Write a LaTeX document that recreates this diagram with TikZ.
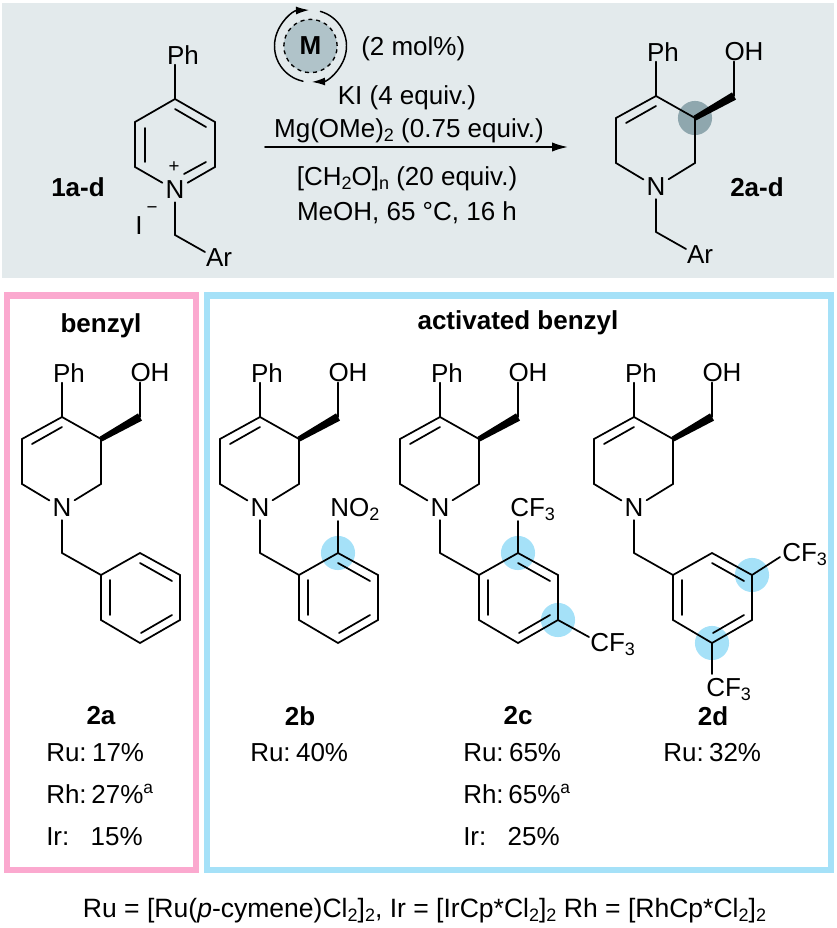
\documentclass[tikz,border=0pt]{standalone}
\usepackage{fontspec}
\usetikzlibrary{arrows.meta}
\setmainfont{Liberation Sans}
\definecolor{panel}{HTML}{E3EAEC}
\definecolor{pinkf}{HTML}{FBA9CF}
\definecolor{bluef}{HTML}{A5E1F8}
\definecolor{mgray}{HTML}{B0C3C9}
\definecolor{sgray}{HTML}{8FA7AE}
\newcommand{\sbs}[1]{\raisebox{-3.6pt}{\fontsize{13.5}{14}\selectfont #1}}
\newcommand{\sps}[1]{\raisebox{7pt}{\fontsize{13}{14}\selectfont #1}}
\tikzset{
  bond/.style={line width=1.3pt,line join=miter,line cap=round},
  lab/.style={font=\fontsize{19.5}{22}\selectfont,inner sep=0pt,text=black},
  atom/.style={lab,inner sep=2.2pt},
  bold/.style={lab,font=\fontsize{19.5}{22}\selectfont\bfseries},
  yieldt/.style={lab,anchor=base west},
  frame/.style={line width=4.6pt},
  spot/.style={fill=bluef,draw=none},
  wedge/.style={fill=black,draw=none}
}
% piperidine core: prefix #1
\newcommand{\core}[1]{%
  \node[lab]  (#1ph) at (69,373) {Ph};
  \node[lab]  (#1oh) at (150,373) {OH};
  \node[atom] (#1n)  at (62,508) {N};
  \coordinate (#1c4) at (62,417);
  \coordinate (#1c3) at (101,439);
  \coordinate (#1c2) at (101,484);
  \coordinate (#1c6) at (22,484);
  \coordinate (#1c5) at (22,439);
  \coordinate (#1d1) at (32,444);
  \coordinate (#1d2) at (62,427);
  \coordinate (#1me) at (140,417);
  \coordinate (#1bn) at (62,553);
  \draw[bond] (#1c4) -- (#1c4 |- #1ph.south);
  \draw[bond] (#1n) -- (#1c2) -- (#1c3) -- (#1c4) -- (#1c5) -- (#1c6) -- (#1n);
  \draw[bond] (#1d1) -- (#1d2);
  \fill[wedge] ([shift={(-1.3,-2.3)}]#1c3) -- ([shift={(-2,-3.6)}]#1me) -- ([shift={(2,3.6)}]#1me) -- ([shift={(1.3,2.3)}]#1c3) -- cycle;
  \draw[bond] (#1me) -- (#1me |- #1oh.south);
  \draw[bond] (#1n) -- (#1bn);
}
% benzene ring: prefix #1, shift handled by the enclosing scope
\newcommand{\benz}[1]{%
  \coordinate (#1r1) at (101,575);
  \coordinate (#1r2) at (140,553);
  \coordinate (#1r3) at (180,575);
  \coordinate (#1r4) at (180,620);
  \coordinate (#1r5) at (140,643);
  \coordinate (#1r6) at (101,620);
  \draw[bond] (#1bn) -- (#1r1) -- (#1r2) -- (#1r3) -- (#1r4) -- (#1r5) -- (#1r6) -- (#1r1);
  \coordinate (#1i1) at (140,563); \coordinate (#1i2) at (172,581);
  \coordinate (#1i3) at (110,580); \coordinate (#1i4) at (110,615);
  \coordinate (#1i5) at (172,615); \coordinate (#1i6) at (141,633);
  \draw[bond] (#1i1) -- (#1i2);
  \draw[bond] (#1i3) -- (#1i4);
  \draw[bond] (#1i5) -- (#1i6);
}
\begin{document}
\begin{tikzpicture}[x=0.75pt,y=-0.75pt]
\useasboundingbox (0,0) rectangle (837,928);
\fill[panel] (2,3) rectangle (834,278);

% --- starting material
\node[lab] (sph) at (183,55) {Ph};
\node[atom] (sn) at (175,190) {N};
\coordinate (s1) at (175,99);
\coordinate (s2) at (215,122);
\coordinate (s3) at (215,167);
\coordinate (s5) at (135,167);
\coordinate (s6) at (135,122);
\coordinate (sd1) at (175,109);
\coordinate (sd2) at (206,127);
\coordinate (sd3) at (145,128);
\coordinate (sd4) at (145,162);
\coordinate (sd5) at (206,162);
\coordinate (sd6) at (184,174);
\coordinate (sb) at (175,235);
\coordinate (sa) at (205,252);
\draw[bond] (s1) -- (s1 |- sph.south);
\draw[bond] (sn) -- (s3) -- (s2) -- (s1) -- (s6) -- (s5) -- (sn);
\draw[bond] (sd1) -- (sd2);
\draw[bond] (sd3) -- (sd4);
\draw[bond] (sd5) -- (sd6);
\draw[bond] (sn) -- (sb) -- (sa);
\node[lab] (splus) at (174,167) {\fontsize{14}{14}\selectfont +};
\node[lab] (sar) at (219,258) {Ar};
\node[lab] (si) at (139,226) {I};
\node[lab] (sminus) at (152,210) {\fontsize{14}{14}\selectfont −};
\node[bold] (l1) at (78,187) {1a-d};

% --- catalyst
\node[circle,fill=mgray,draw=black,dashed,line width=1pt,minimum size=40pt,inner sep=0pt] (cat) at (310.5,46) {};
\node[bold] (catm) at (310.5,46) {M};
\draw[bond,line width=1.1pt,-{Latex[length=10pt,width=6pt]}] (cat.center) ++(102:36) arc (102:268:36);
\draw[bond,line width=1.1pt,-{Latex[length=10pt,width=6pt]}] (cat.center) ++(-74:36) arc (-74:88:36);

% --- conditions
\node[lab,anchor=base west] (t1) at (361,55) {(2 mol\%)};
\node[lab,anchor=base] (t2) at (407,104) {KI (4 equiv.)};
\node[lab,anchor=base] (t3) at (409,137) {Mg(OMe)\sbs{2} (0.75 equiv.)};
\node[lab,anchor=base] (t4) at (407,185) {[CH\sbs{2}O]\sbs{n} (20 equiv.)};
\node[lab,anchor=base] (t5) at (407,220) {MeOH, 65 °C, 16 h};
\coordinate (ar1) at (265,147);
\coordinate (ar2) at (568,147);
\draw[bond,-{Latex[length=12pt,width=7pt]}] (ar1) -- (ar2);

% --- product
\begin{scope}[shift={(594,-321)}]
  \coordinate (pc3) at (101,439);
  \fill[sgray] (pc3) circle (12.8pt);
  \core{p}
  \coordinate (pa) at (92,570);
  \draw[bond] (pbn) -- (pa);
  \node[lab] (par) at (106,576) {Ar};
  \node[bold] (l2) at (163,508) {2a-d};
\end{scope}

% --- frames
\draw[frame,pinkf] (7,295.5) rectangle (196,870);
\draw[frame,bluef] (207,295.5) rectangle (831,870);
\node[bold] (hb) at (101,326) {benzyl};
\node[bold] (ha) at (518,323) {activated benzyl};

% --- 2a
\begin{scope}
  \core{a}
  \benz{a}
\end{scope}

% --- 2b
\begin{scope}[shift={(198,0)}]
  \fill[spot] (140,553) circle (12.8pt);
  \core{b}
  \benz{b}
  \node[lab,anchor=base west] (bno) at (132,516) {NO\sbs{2}};
  \coordinate (bnb) at (140,521);
  \draw[bond] (br2) -- (bnb);
\end{scope}

% --- 2c
\begin{scope}[shift={(378,0)}]
  \fill[spot] (140,553) circle (12.8pt);
  \fill[spot] (180,620) circle (12.8pt);
  \core{c}
  \benz{c}
  \node[lab,anchor=base west] (ccf1) at (132,516) {CF\sbs{3}};
  \coordinate (cnb) at (140,521);
  \draw[bond] (cr2) -- (cnb);
  \node[lab,anchor=base west] (ccf2) at (212,651) {CF\sbs{3}};
  \coordinate (ce2) at (211,637);
  \draw[bond] (cr4) -- (ce2);
\end{scope}

% --- 2d
\begin{scope}[shift={(572,0)}]
  \fill[spot] (180,575) circle (12.8pt);
  \fill[spot] (140,643) circle (12.8pt);
  \core{d}
  \benz{d}
  \node[lab,anchor=base west] (dcf1) at (210,561) {CF\sbs{3}};
  \coordinate (de1) at (208,557);
  \draw[bond] (dr3) -- (de1);
  \node[lab,anchor=base west] (dcf2) at (134,696) {CF\sbs{3}};
  \coordinate (de2) at (140,674);
  \draw[bond] (dr5) -- (de2);
\end{scope}

% --- labels
\node[bold] (n2a) at (101,716) {2a};
\node[bold] (n2b) at (300,716) {2b};
\node[bold] (n2c) at (518,716) {2c};
\node[bold] (n2d) at (713,716) {2d};

\node[yieldt] (y1) at (46,761.5) {Ru:\hspace{4pt}17\%};
\node[yieldt] (y2) at (46,803) {Rh:\hspace{3.5pt}27\%\sps{a}};
\node[yieldt] (y3) at (46,845) {Ir:\hspace{16pt}15\%};
\node[yieldt] (y4) at (250,761.5) {Ru:\hspace{4pt}40\%};
\node[yieldt] (y5) at (463,761.5) {Ru:\hspace{4pt}65\%};
\node[yieldt] (y6) at (463,803) {Rh:\hspace{3.5pt}65\%\sps{a}};
\node[yieldt] (y7) at (463,845) {Ir:\hspace{16pt}25\%};
\node[yieldt] (y8) at (663,761.5) {Ru:\hspace{4pt}32\%};

\node[lab,anchor=base,font=\fontsize{19.9}{22}\selectfont] (foot) at (424.5,917) {Ru = [Ru(\textit{p}-cymene)Cl\sbs{2}]\sbs{2}, Ir = [IrCp*Cl\sbs{2}]\sbs{2} Rh = [RhCp*Cl\sbs{2}]\sbs{2}};
\end{tikzpicture}
\end{document}
